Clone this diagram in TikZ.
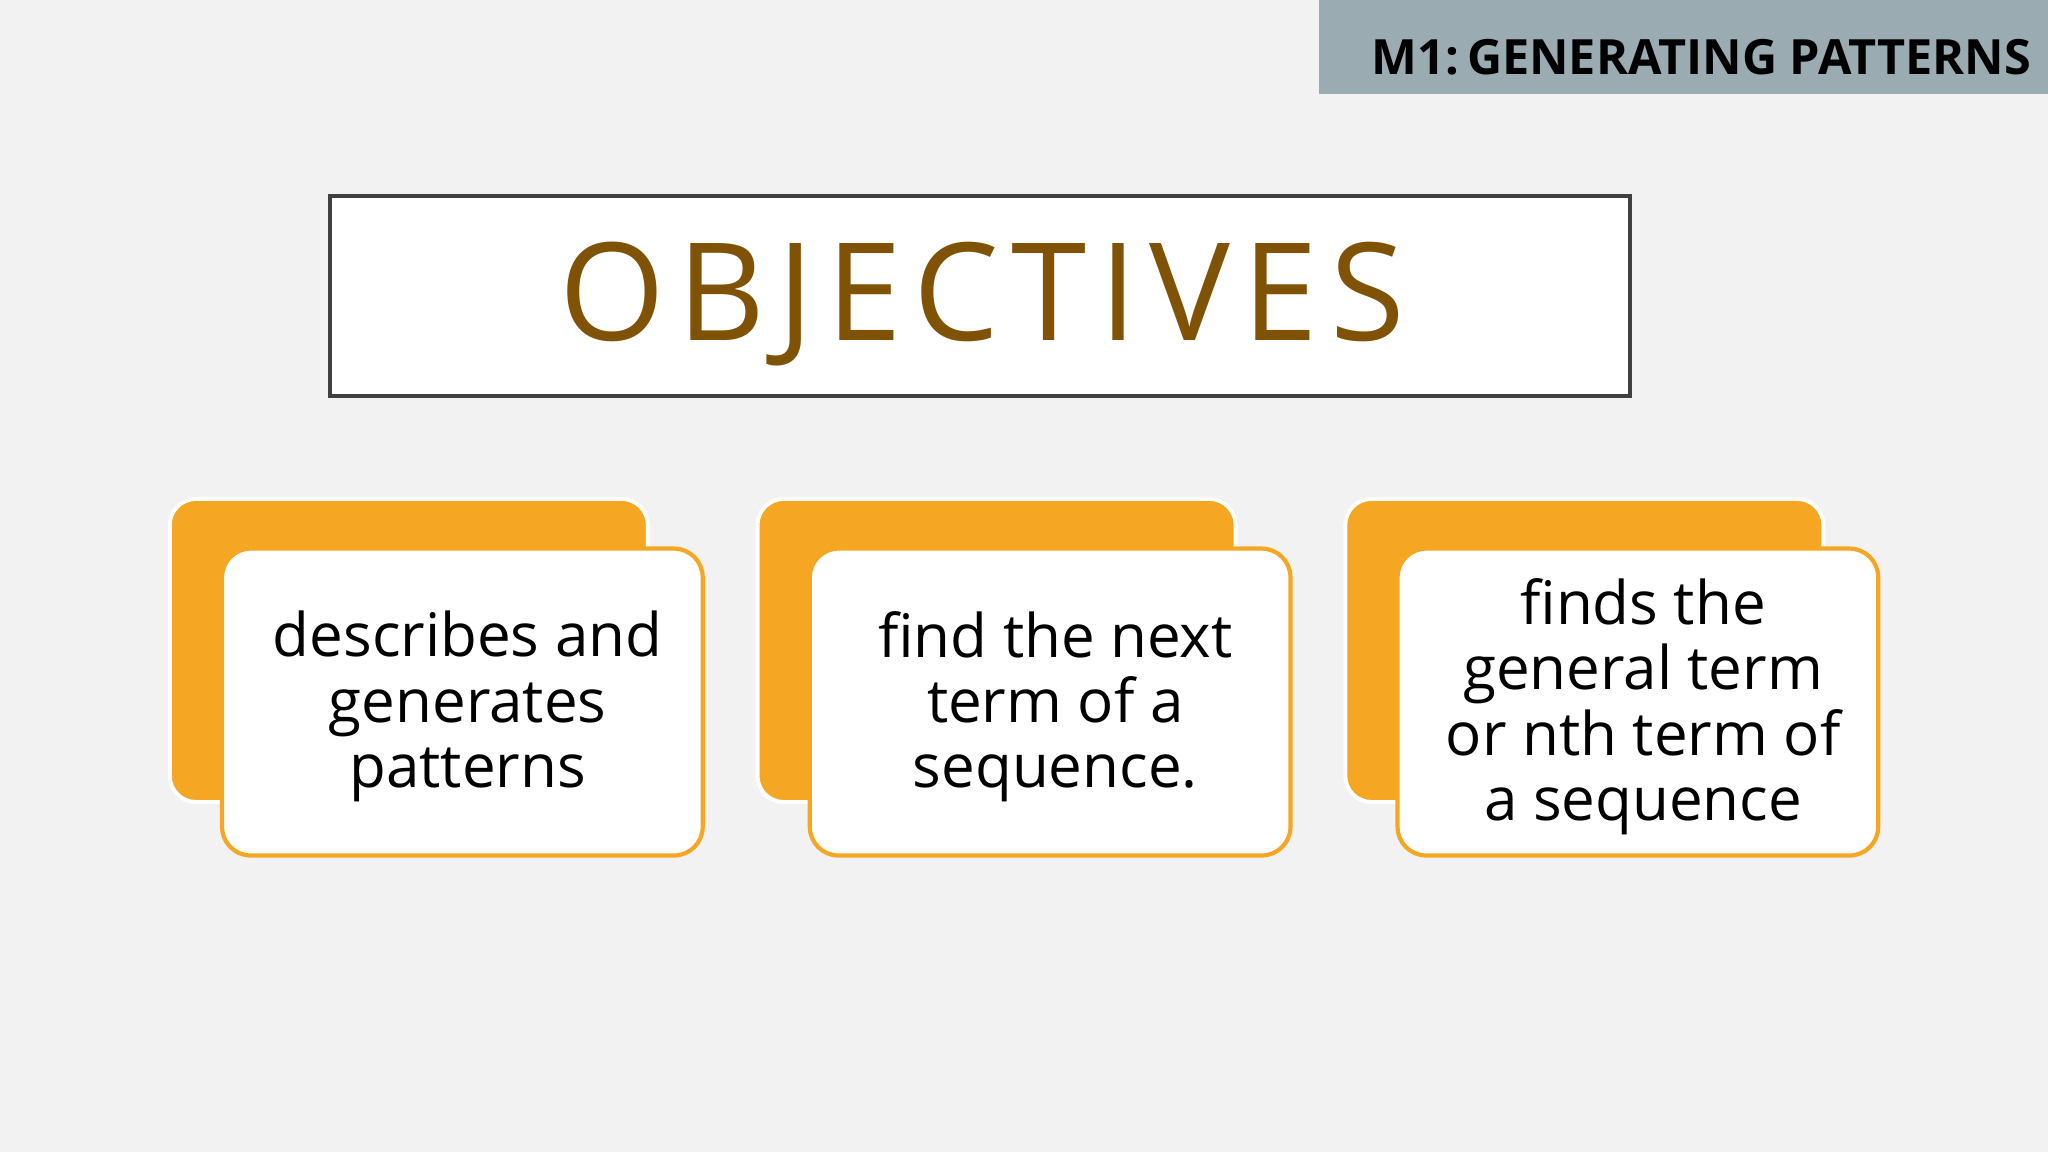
\documentclass[tikz,border=0pt]{standalone}
\usepackage{fontspec}
\setmainfont{Open Sans}
\newfontfamily\spacedfont[LetterSpace=9]{Open Sans}
\definecolor{bg}{HTML}{F2F2F2}
\definecolor{banner}{HTML}{9BABB2}
\definecolor{brownt}{HTML}{7F5206}
\definecolor{orng}{HTML}{F5A623}
\definecolor{frame}{HTML}{404040}
\tikzset{
 back/.style={fill=orng,draw=white,line width=1.5pt,rounded corners=10pt},
 front/.style={fill=white,draw=orng,line width=1.6pt,rounded corners=11pt},
 cardtext/.style={align=center,font=\fontsize{23pt}{25pt}\selectfont,text=black}
}
\begin{document}
\begin{tikzpicture}[x=0.5pt,y=-0.5pt]
\fill[bg] (0,0) rectangle (1568,882);
\fill[banner] (1010,0) rectangle (1568,72);
\node[anchor=east,font=\fontsize{18.6pt}{22pt}\selectfont\bfseries] (ban) at (1562,44) {M1:\,GENERATING PATTERNS};
\draw[fill=white,draw=frame,line width=1.5pt] (253,150) rectangle (1248,303);
\node[text=brownt,font=\spacedfont\fontsize{52pt}{56pt}\selectfont] (title) at (752,233) {OBJECTIVES};
\foreach \dx/\nm/\txt in {0/a/{describes and\\generates\\patterns},450/b/{find the next\\term of a\\sequence.},900/c/{finds the\\general term\\or nth term of\\a sequence}}{
 \draw[back] (130+\dx,382) rectangle (496+\dx,614);
 \draw[front] (170+\dx,420) rectangle (538+\dx,655);
 \node[cardtext] (\nm) at (358+\dx,541) {\txt};
}
\end{tikzpicture}
\end{document}
